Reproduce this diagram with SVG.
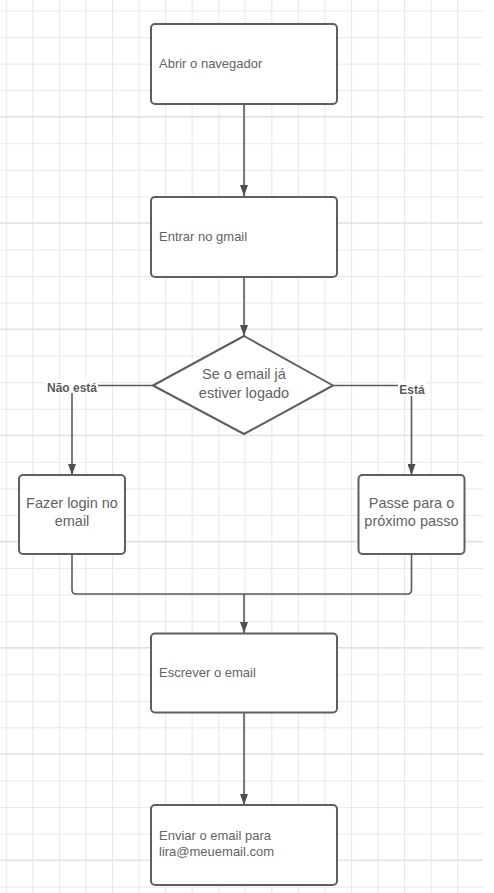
<svg xmlns="http://www.w3.org/2000/svg" width="494" height="893" viewBox="0 0 494 893">
<style>
.box{fill:#fff;stroke:#5f5f5f;stroke-width:2}
.t{font-family:"Liberation Sans",Arial,sans-serif;fill:#636363}
.lt{font-size:13px}
.ct{font-size:14.5px;text-anchor:middle}
.lbl{font-family:"Liberation Sans",Arial,sans-serif;font-size:12px;font-weight:bold;fill:#5a5a5a;text-anchor:middle}
.c{fill:none;stroke:#5a5a5a;stroke-width:1.6}
</style>
<defs>
<pattern id="grid" patternUnits="userSpaceOnUse" x="5.8" y="10.5" width="26.55" height="26.55">
<path d="M0 0.5H26.55M0.5 0V26.55" stroke="#e8e8e8" stroke-width="1.2" fill="none"/>
</pattern>
<marker id="arr" markerUnits="userSpaceOnUse" markerWidth="11" markerHeight="8" refX="11" refY="4" orient="auto">
<path d="M0,0 L11,4 L0,8 z" fill="#4f4f4f"/>
</marker>
</defs>
<rect width="494" height="893" fill="#fff"/>
<rect x="0" y="0" width="483" height="893" fill="url(#grid)"/>
<g id="major" stroke="#e1e1e1" stroke-width="1.3">
<path d="M0 116.7H483M0 222.9H483M0 329.1H483M0 435.3H483M0 541.5H483M0 647.7H483M0 753.9H483M0 860.1H483"/>
</g>
<g id="connectors">
<path class="c" d="M244 104V196" marker-end="url(#arr)"/>
<path class="c" d="M244 277V336" marker-end="url(#arr)"/>
<path class="c" d="M153 385.5H72V475" marker-end="url(#arr)"/>
<path class="c" d="M333 385.5H411.5V475" marker-end="url(#arr)"/>
<path class="c" d="M72 554V590Q72 594 76 594H407.5Q411.5 594 411.5 590V554"/>
<path class="c" d="M244 594V633" marker-end="url(#arr)"/>
<path class="c" d="M244 713V805" marker-end="url(#arr)"/>
<rect x="45" y="380" width="53" height="13" fill="#fff"/>
<text class="lbl" x="72" y="391.5">Não está</text>
<rect x="398" y="382" width="28" height="14" fill="#fff"/>
<text class="lbl" x="412" y="394">Está</text>
</g>
<g id="n1">
<rect class="box" x="151" y="24" width="186" height="80" rx="4"/>
<text class="t lt" x="159" y="68">Abrir o navegador</text>
</g>
<g id="n2">
<rect class="box" x="151" y="197" width="186" height="80" rx="4"/>
<text class="t lt" x="159" y="241">Entrar no gmail</text>
</g>
<g id="n3">
<polygon class="box" points="244,336 333,385.5 244,434 153,385.5" stroke-linejoin="round"/>
<text class="t ct" x="244" y="379">Se o email já</text>
<text class="t ct" x="244" y="398">estiver logado</text>
</g>
<g id="n4">
<rect class="box" x="19" y="475" width="106" height="79" rx="4"/>
<text class="t ct" x="72" y="508">Fazer login no</text>
<text class="t ct" x="72" y="526">email</text>
</g>
<g id="n5">
<rect class="box" x="358.5" y="475" width="106" height="79" rx="4"/>
<text class="t ct" x="411.5" y="508">Passe para o</text>
<text class="t ct" x="411.5" y="526">próximo passo</text>
</g>
<g id="n6">
<rect class="box" x="151" y="633.5" width="186" height="79" rx="4"/>
<text class="t lt" x="159" y="677">Escrever o email</text>
</g>
<g id="n7">
<rect class="box" x="151" y="805" width="186" height="80" rx="4"/>
<text class="t lt" x="159" y="840">Enviar o email para</text>
<text class="t lt" x="159" y="856">lira@meuemail.com</text>
</g>
</svg>
